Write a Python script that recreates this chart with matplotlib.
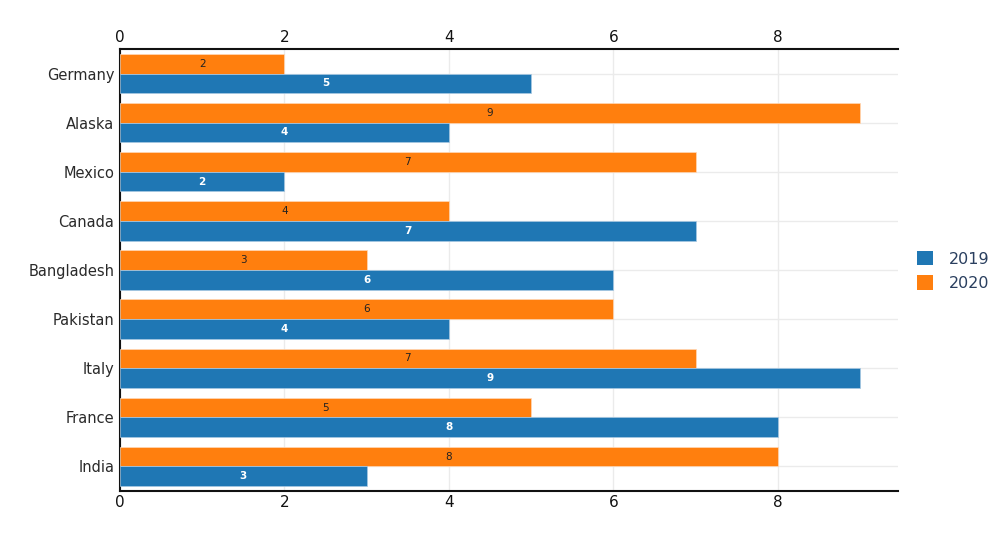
import numpy as np
import matplotlib
matplotlib.use("Agg")
import matplotlib.pyplot as plt
from matplotlib.patches import Patch

plt.rcParams["font.family"] = ["DejaVu Sans"]

# data, top to bottom as shown
countries = ["Germany", "Alaska", "Mexico", "Canada", "Bangladesh",
             "Pakistan", "Italy", "France", "India"]
values_2019 = [5, 4, 2, 7, 6, 4, 9, 8, 3]
values_2020 = [2, 9, 7, 4, 3, 6, 7, 5, 8]
x_ticks = [0, 2, 4, 6, 8]

BLUE = "#1f77b4"
ORANGE = "#ff7f0e"

fig = plt.figure(figsize=(9.99, 5.36), dpi=100)
ax = fig.add_axes([120 / 999, 1 - 491 / 536, (898 - 120) / 999, (491 - 49) / 536])

y = np.arange(len(countries))
h = 0.4

# orange (2020) above the centre line, blue (2019) below
b20 = ax.barh(y - h / 2, values_2020, height=h, color=ORANGE,
              edgecolor="#ffd9b8", linewidth=0.5, zorder=3)
b19 = ax.barh(y + h / 2, values_2019, height=h, color=BLUE,
              edgecolor="#a9c9e2", linewidth=0.5, zorder=3)

for bar, v in zip(b20, values_2020):
    ax.text(bar.get_width() / 2, bar.get_y() + bar.get_height() / 2, str(v),
            ha="center", va="center", fontsize=7.5, color="#222222", zorder=4)
for bar, v in zip(b19, values_2019):
    ax.text(bar.get_width() / 2, bar.get_y() + bar.get_height() / 2, str(v),
            ha="center", va="center", fontsize=7.5, color="white",
            fontweight="bold", zorder=4)

ax.set_xlim(0, 9.46)
ax.set_ylim(len(countries) - 0.5, -0.5)
ax.set_yticks(y)
ax.set_yticklabels(countries, fontsize=10.5, color="#2a2a2a")
ax.set_xticks(x_ticks)
ax.set_xticklabels([str(t) for t in x_ticks], fontsize=11, color="#111111")
ax.tick_params(axis="x", which="both", top=True, labeltop=True,
               bottom=True, labelbottom=True, length=0, pad=3)
ax.tick_params(axis="y", length=0, pad=4)

ax.grid(True, axis="both", color="#ebebeb", linewidth=1, zorder=0)
ax.set_axisbelow(True)

for side in ["top", "bottom", "left"]:
    ax.spines[side].set_color("#111111")
    ax.spines[side].set_linewidth(1.5)
ax.spines["right"].set_visible(False)

handles = [Patch(facecolor=BLUE, label="2019"),
           Patch(facecolor=ORANGE, label="2020")]
fig.legend(handles=handles, loc="center left", bbox_to_anchor=(903 / 999, 1 - 271 / 536),
           frameon=False, fontsize=11.5, handlelength=1.0, handleheight=1.0,
           handletextpad=1.0, labelspacing=0.55, labelcolor="#2a3f5f")

fig.savefig("out.png", dpi=100, facecolor="white")
